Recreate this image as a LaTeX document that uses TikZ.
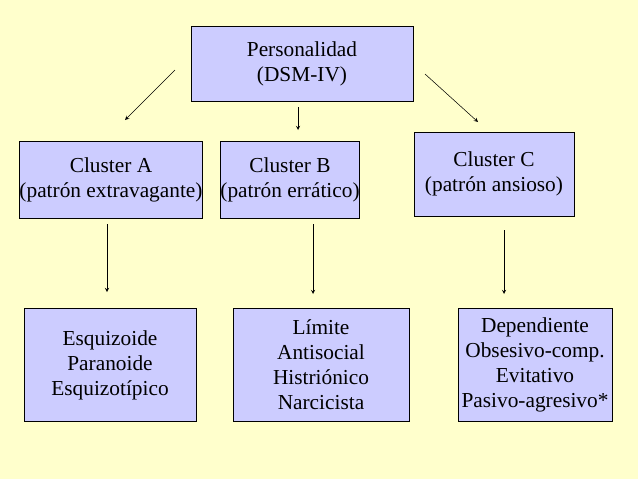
\documentclass[tikz,border=0pt]{standalone}
\usepackage{fontspec}
\setmainfont{Liberation Serif}
\begin{document}
\begin{tikzpicture}[x=0.75pt,y=-0.75pt,
  box/.style={draw=black,fill=boxc,align=center,font=\fontsize{16}{18.8}\selectfont,inner sep=0pt},
  arr/.style={->,>=stealth,thin}]
\definecolor{bg}{HTML}{FFFFCC}
\definecolor{boxc}{HTML}{CCCCFF}
\fill[bg] (0,0) rectangle (638,479);
\useasboundingbox (0,0) rectangle (638,479);
\node[box,minimum width=166.5pt,minimum height=56pt] (p) at (302,64) {Personalidad\\(DSM-IV)};
\node[box,minimum width=135pt,minimum height=58pt] (a) at (111,180) {Cluster A\\(patrón extravagante)};
\node[box,minimum width=98pt,minimum height=58pt] (b) at (290,180) {Cluster B\\(patrón errático)};
\node[box,minimum width=120pt,minimum height=63pt] (c) at (494,174) {Cluster C\\(patrón ansioso)};
\node[box,minimum width=129pt,minimum height=85pt] (a2) at (110,365) {Esquizoide\\Paranoide\\Esquizotípico};
\node[box,minimum width=132pt,minimum height=85pt] (b2) at (321,365) {Límite\\Antisocial\\Histriónico\\Narcicista};
\node[box,minimum width=115.5pt,minimum height=85pt] (c2) at (535,365) {Dependiente\\Obsesivo-comp.\\Evitativo\\Pasivo-agresivo*};
\coordinate (p1) at (175,70); \coordinate (a1) at (125,120);
\coordinate (p2) at (298,107); \coordinate (b1) at (298,130);
\coordinate (p3) at (425,74); \coordinate (c1) at (478,122);
\coordinate (x1) at (107,224); \coordinate (x2) at (107,292);
\coordinate (y1) at (313,224); \coordinate (y2) at (313,294);
\coordinate (z1) at (504,230); \coordinate (z2) at (504,294);
\draw[arr] (p1) -- (a1);
\draw[arr] (p2) -- (b1);
\draw[arr] (p3) -- (c1);
\draw[arr] (x1) -- (x2);
\draw[arr] (y1) -- (y2);
\draw[arr] (z1) -- (z2);
\end{tikzpicture}
\end{document}
